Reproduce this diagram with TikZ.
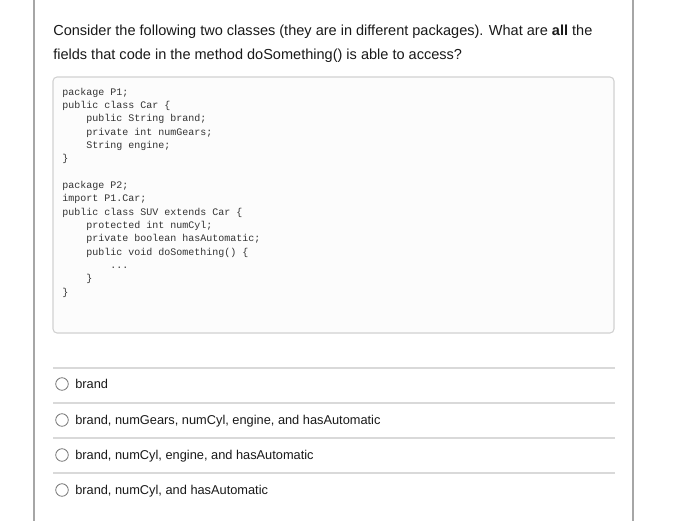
\documentclass[tikz,border=0pt]{standalone}
\usepackage{fontspec}
\setmainfont{Liberation Sans}
\newfontfamily\codefont{Liberation Mono}
\begin{document}
\begin{tikzpicture}[x=0.75pt,y=-0.75pt,
  q/.style={anchor=base west,inner sep=0pt,font=\fontsize{10.9pt}{13pt}\selectfont,text=black!90},
  cl/.style={anchor=base west,inner sep=0pt,font=\codefont\fontsize{7.5pt}{9pt}\selectfont,text=black!80},
  ans/.style={anchor=base west,inner sep=0pt,font=\fontsize{9.6pt}{12pt}\selectfont,text=black!90},
  sep/.style={draw=black!15,line width=0.8pt},
  radio/.style={circle,draw=black!55,line width=0.6pt,minimum size=9.4pt,inner sep=0pt}]
\useasboundingbox (0,0) rectangle (689,521);
\draw[black!35,line width=1.2pt] (34,0) -- (34,521) (633,0) -- (633,521);
\node[q] (q1) at (53,35) {Consider the following two classes (they are in different packages). What are \textbf{all} the};
\node[q] (q2) at (53,59) {fields that code in the method doSomething() is able to access?};
\draw[black!18,line width=0.8pt,fill=black!1,rounded corners=3pt] (53,77) rectangle (614,333);
\node[cl] (c1) at (62,95) {package P1;};
\node[cl] (c2) at (62,108.35) {public class Car \{};
\node[cl] (c3) at (86,121.7) {public String brand;};
\node[cl] (c4) at (86,135.05) {private int numGears;};
\node[cl] (c5) at (86,148.4) {String engine;};
\node[cl] (c6) at (62,161.75) {\}};
\node[cl] (c8) at (62,188.45) {package P2;};
\node[cl] (c9) at (62,201.8) {import P1.Car;};
\node[cl] (c10) at (62,215.15) {public class SUV extends Car \{};
\node[cl] (c11) at (86,228.5) {protected int numCyl;};
\node[cl] (c12) at (86,241.85) {private boolean hasAutomatic;};
\node[cl] (c13) at (86,255.2) {public void doSomething() \{};
\node[cl] (c14) at (110,268.55) {...};
\node[cl] (c15) at (86,281.9) {\}};
\node[cl] (c16) at (62,295.25) {\}};
\foreach \y in {368,403,438,473} \draw[sep] (53,\y) -- (615,\y);
\node[radio] (r1) at (62,384) {};
\node[ans] (a1) at (75,388.5) {brand};
\node[radio] (r2) at (62,420) {};
\node[ans] (a2) at (75,424.5) {brand, numGears, numCyl, engine, and hasAutomatic};
\node[radio] (r3) at (62,455) {};
\node[ans] (a3) at (75,459.5) {brand, numCyl, engine, and hasAutomatic};
\node[radio] (r4) at (62,490) {};
\node[ans] (a4) at (75,494.5) {brand, numCyl, and hasAutomatic};
\end{tikzpicture}
\end{document}
